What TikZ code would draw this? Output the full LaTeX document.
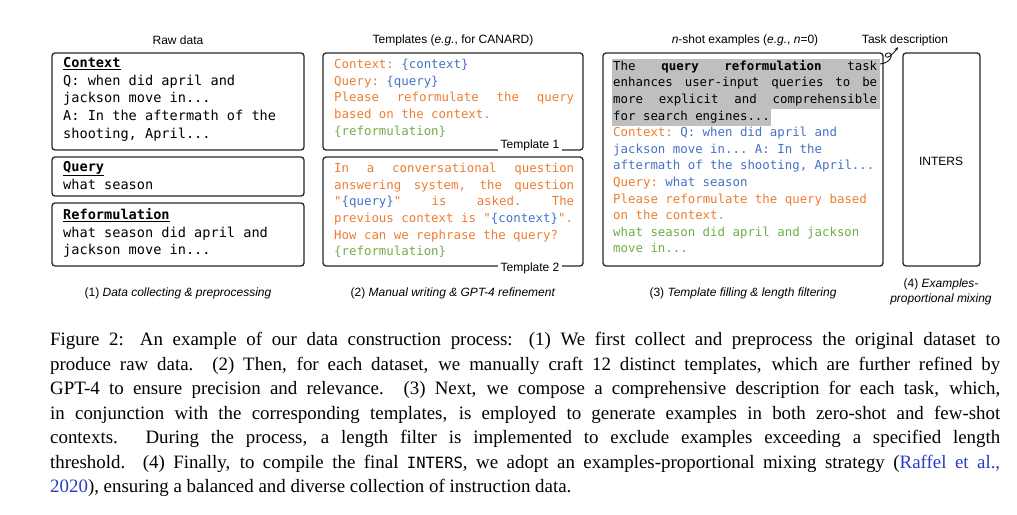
\documentclass[tikz,border=0pt]{standalone}
\usepackage{fontspec}
\setmainfont{Liberation Serif}
\setsansfont{Liberation Sans}
\setmonofont{DejaVu Sans Mono}
\usetikzlibrary{arrows.meta}
\definecolor{cor}{RGB}{237,125,49}
\definecolor{cbl}{RGB}{68,114,196}
\definecolor{cgr}{RGB}{112,173,71}
\definecolor{cref}{RGB}{40,60,200}
\newcommand{\jsp}{\spaceskip 0.6em plus 2em\relax\xspaceskip 0.6em plus 2em\relax}
\tikzset{
 box/.style={draw=black!85, line width=1.3pt, rounded corners=3pt},
 raw/.style={anchor=north west, inner sep=0pt, align=left, font=\fontsize{13.6}{17.8}\selectfont\ttfamily},
 mono/.style={anchor=north west, inner sep=0pt, text width=#1, align=justify, font=\fontsize{12.4}{16.6}\selectfont\ttfamily},
 lab/.style={font=\fontsize{12}{13}\selectfont\sffamily, inner sep=1pt},
 tlab/.style={font=\fontsize{12}{13}\selectfont\sffamily, fill=white, inner sep=3pt},
}
\newcommand{\ul}[1]{\underline{\textbf{#1}}}
\begin{document}
\begin{tikzpicture}[x=1pt,y=-1pt]
\useasboundingbox (0,0) rectangle (1017,514);
% titles
\node[lab] (t1) at (178,40) {Raw data};
\node[lab] (t2) at (453,40) {Templates (\textit{e.g.}, for CANARD)};
\node[lab] (t3) at (745,40) {\textit{n}-shot examples (\textit{e.g.}, \textit{n}=0)};
\node[lab] (t4) at (905,40) {Task description};
% raw data boxes
\draw[box] (52,53) rectangle (304,150);
\draw[box] (52,157) rectangle (304,196);
\draw[box] (52,203) rectangle (304,266);
\node[raw] (r1) at (63,57) {\ul{Context}\\Q: when did april and\\jackson move in...\\A: In the aftermath of the\\shooting, April...};
\node[raw] (r2) at (63,161) {\ul{Query}\\what season};
\node[raw] (r3) at (63,208) {\ul{Reformulation}\\what season did april and\\jackson move in...};
% templates
\draw[box] (323,53) rectangle (583,150);
\draw[box] (323,157) rectangle (583,266);
\node[tlab] (tp1) at (530,145) {Template 1};
\node[tlab] (tp2) at (530,268) {Template 2};
\node[mono=240pt] (m1) at (334,59) {\jsp\color{cor}Context: \textcolor{cbl}{\{context\}}\newline Query: \textcolor{cbl}{\{query\}}\newline Please reformulate the query\linebreak based on the context.\newline\textcolor{cgr}{\{reformulation\}}};
\node[mono=240pt] (m2) at (334,163) {\jsp\color{cor}In a conversational question\linebreak answering system, the question\linebreak "\textcolor{cbl}{\{query\}}" is asked. The\linebreak previous context is "\textcolor{cbl}{\{context\}}".\newline How can we rephrase the query?\newline\textcolor{cgr}{\{reformulation\}}};
% examples
\draw[box] (603,53) rectangle (883,266);
\fill[black!25] (612,59) rectangle (880,109);
\fill[black!25] (612,109) rectangle (771,126);
\node[mono=264pt] (m3) at (613,60) {\jsp The \textbf{query reformulation} task\linebreak enhances user-input queries to be\linebreak more explicit and comprehensible\linebreak for search engines...\newline
\textcolor{cor}{Context:} \textcolor{cbl}{Q: when did april and}\newline\textcolor{cbl}{jackson move in... A: In the}\newline\textcolor{cbl}{aftermath of the shooting, April...}\newline
\textcolor{cor}{Query:} \textcolor{cbl}{what season}\newline
\textcolor{cor}{Please reformulate the query based}\newline\textcolor{cor}{on the context.}\newline
\textcolor{cgr}{what season did april and jackson}\newline\textcolor{cgr}{move in...}};
\coordinate (ta) at (880,64);
\draw[line width=0.8pt, -{Stealth[length=4pt]}] (ta) .. controls (892,63) and (894,52) .. (888,53) .. controls (882,54) and (886,64) .. (898,47);
% INTERS
\draw[box] (903,53) rectangle (980,266);
\node[font=\fontsize{12}{14}\selectfont\sffamily] (in) at (941,161) {INTERS};
% step labels
\node[lab] (s1) at (178,293) {(1) \textit{Data collecting \& preprocessing}};
\node[lab] (s2) at (453,293) {(2) \textit{Manual writing \& GPT-4 refinement}};
\node[lab] (s3) at (743,293) {(3) \textit{Template filling \& length filtering}};
\node[lab, align=center, font=\fontsize{12}{14.5}\selectfont\sffamily] (s4) at (941,292) {(4) \textit{Examples-}\\\textit{proportional mixing}};
% caption
\node[anchor=north west, inner sep=0pt, text width=950pt, align=justify, font=\fontsize{18.9}{24.5}\selectfont] (cap) at (50,332) {Figure 2: An example of our data construction process: (1) We first collect and preprocess the original dataset to\linebreak produce raw data. (2) Then, for each dataset, we manually craft 12 distinct templates, which are further refined by\linebreak GPT-4 to ensure precision and relevance. (3) Next, we compose a comprehensive description for each task, which,\linebreak in conjunction with the corresponding templates, is employed to generate examples in both zero-shot and few-shot\linebreak contexts. During the process, a length filter is implemented to exclude examples exceeding a specified length\linebreak threshold. (4) Finally, to compile the final {\ttfamily\fontsize{15.5}{15}\selectfont INTERS}, we adopt an examples-proportional mixing strategy (\textcolor{cref}{Raffel et al.,}\linebreak\textcolor{cref}{2020}), ensuring a balanced and diverse collection of instruction data.};
\end{tikzpicture}
\end{document}
